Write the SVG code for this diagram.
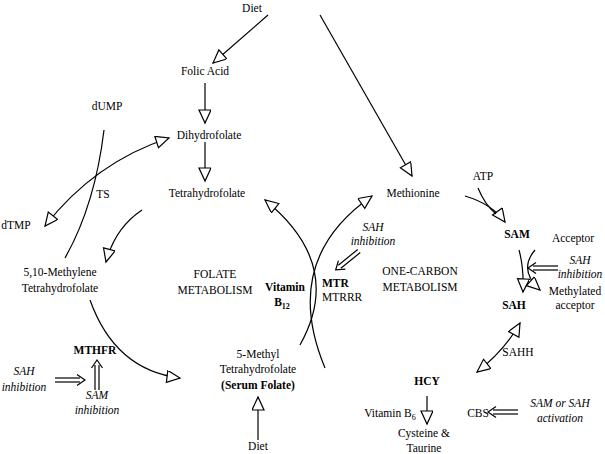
<svg xmlns="http://www.w3.org/2000/svg" width="605" height="454" viewBox="0 0 605 454" font-family="'Liberation Serif','Times New Roman','DejaVu Serif',serif">
<style>
text{font-family:"Liberation Serif","Times New Roman","DejaVu Serif",serif;font-size:11.5px;fill:#000;text-anchor:middle}
.b{font-weight:bold}.i{font-style:italic}.l{text-anchor:start}
.c path,.c line{fill:none;stroke:#000;stroke-width:1.2}
.a{marker-end:url(#tri)}
</style>
<defs>
<marker id="tri" markerUnits="userSpaceOnUse" markerWidth="16" markerHeight="14" refX="14" refY="6" orient="auto"><path d="M1,0 L14,6 L1,12 z" fill="#fff" stroke="#000" stroke-width="1.2"/></marker>
<marker id="tris" markerUnits="userSpaceOnUse" markerWidth="16" markerHeight="14" refX="14" refY="6" orient="auto-start-reverse"><path d="M1,0 L14,6 L1,12 z" fill="#fff" stroke="#000" stroke-width="1.2"/></marker>
<g id="dbl"><line x1="0" y1="-2" x2="25" y2="-2" stroke="#000" stroke-width="1.2"/><line x1="0" y1="2" x2="25" y2="2" stroke="#000" stroke-width="1.2"/><path d="M22,-5.5 L30,0 L22,5.5" fill="none" stroke="#000" stroke-width="1.2"/></g>
</defs>
<g id="connectors" class="c">
<line class="a" x1="268" y1="15" x2="213" y2="63"/>
<line class="a" x1="320" y1="15" x2="412" y2="176"/>
<line class="a" x1="205" y1="83" x2="205" y2="123"/>
<line class="a" x1="205" y1="142" x2="205" y2="181"/>
<path d="M104,130 Q95,205 65,258"/>
<path d="M45,226 Q95,162 169,138" marker-start="url(#tris)" marker-end="url(#tris)"/>
<path class="a" d="M142,210 Q115,228 106,262"/>
<path class="a" d="M90,300 Q115,370 180,378"/>
<line class="a" x1="258" y1="440" x2="258" y2="397"/>
<path class="a" d="M300,345 Q345,265 265,200"/>
<path class="a" d="M325,368 Q280,260 372,196"/>
<path class="a" d="M465,196 Q492,204 505,222"/>
<path d="M478,188 Q485,205 496,214"/>
<path class="a" d="M519,250 Q524,268 523,292"/>
<path class="a" d="M535,250 Q518,270 540,290"/>
<path d="M477,372 Q505,350 520,323" marker-start="url(#tris)" marker-end="url(#tris)"/>
<line class="a" x1="427" y1="396" x2="427" y2="424"/>
<use href="#dbl" transform="translate(55,380)"/>
<use href="#dbl" transform="translate(97,390) rotate(-90)"/>
<use href="#dbl" transform="translate(359,251) rotate(141)"/>
<use href="#dbl" transform="translate(558,268) rotate(180)"/>
<use href="#dbl" transform="translate(518,412) rotate(180)"/>
</g>
<g id="diet"><text x="252" y="12">Diet</text></g>
<g id="folic"><text x="205" y="75">Folic Acid</text></g>
<g id="dhf"><text x="209" y="139">Dihydrofolate</text></g>
<g id="thf"><text x="207" y="197">Tetrahydrofolate</text></g>
<g id="dump"><text x="107" y="110">dUMP</text></g>
<g id="dtmp"><text x="16" y="229">dTMP</text></g>
<g id="ts"><text x="103" y="198">TS</text></g>
<g id="mthf"><text x="60" y="276">5,10-Methylene</text><text x="60" y="292">Tetrahydrofolate</text></g>
<g id="folate"><text x="215" y="278">FOLATE</text><text x="215" y="294">METABOLISM</text></g>
<g id="mthfr"><text class="b" x="95" y="354">MTHFR</text><text class="i" x="24" y="375">SAH</text><text class="i" x="24" y="391">inhibition</text><text class="i" x="97" y="399">SAM</text><text class="i" x="97" y="414">inhibition</text></g>
<g id="m5"><text x="258" y="358">5-Methyl</text><text x="258" y="373">Tetrahydrofolate</text><text class="b" x="258" y="389">(Serum Folate)</text></g>
<g id="diet2"><text x="258" y="450">Diet</text></g>
<g id="b12"><text class="b" x="285" y="291">Vitamin</text><text class="b" x="282" y="306">B<tspan font-size="8" dy="3">12</tspan></text></g>
<g id="mtr"><text class="i" x="373" y="231">SAH</text><text class="i" x="373" y="245">inhibition</text><text class="b l" x="322" y="287">MTR</text><text class="l" x="322" y="301">MTRRR</text></g>
<g id="onec"><text x="420" y="275">ONE-CARBON</text><text x="420" y="291">METABOLISM</text></g>
<g id="met"><text x="413" y="197">Methionine</text></g>
<g id="atp"><text x="483" y="180">ATP</text></g>
<g id="sam"><text class="b" x="517" y="238">SAM</text><text x="573" y="242">Acceptor</text></g>
<g id="sahinh"><text class="i" x="580" y="264">SAH</text><text class="i" x="580" y="278">inhibition</text></g>
<g id="macc"><text x="575" y="295">Methylated</text><text x="575" y="309">acceptor</text></g>
<g id="sah"><text class="b" x="514" y="309">SAH</text></g>
<g id="sahh"><text x="518" y="356">SAHH</text></g>
<g id="hcy"><text class="b" x="427" y="385">HCY</text></g>
<g id="b6"><text x="390" y="417">Vitamin B<tspan font-size="8" dy="3">6</tspan></text></g>
<g id="cys"><text x="424" y="437">Cysteine &amp;</text><text x="424" y="452">Taurine</text></g>
<g id="cbs"><text x="478" y="417">CBS</text><text class="i" x="560" y="407">SAM or SAH</text><text class="i" x="560" y="422">activation</text></g>
</svg>
